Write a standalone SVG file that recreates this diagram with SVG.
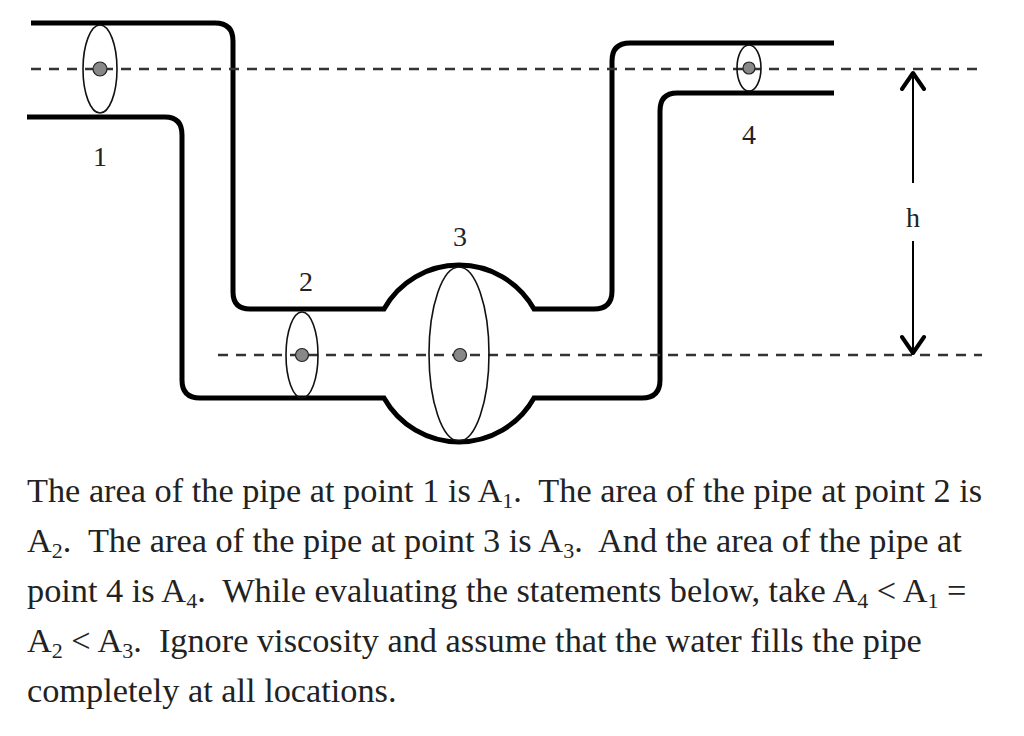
<svg xmlns="http://www.w3.org/2000/svg" width="1024" height="736" viewBox="0 0 1024 736">
<style>
.pipe{fill:none;stroke:#000;stroke-width:5}
.dash{fill:none;stroke:#333;stroke-width:2.5;stroke-dasharray:10,8}
.sec{fill:none;stroke:#111;stroke-width:1.6}
.dot{fill:#888;stroke:#222;stroke-width:1.2}
.lbl{font-family:"Liberation Serif",serif;font-size:28px;fill:#222;text-anchor:middle}
.txt{font-family:"Liberation Serif",serif;font-size:34.3px;fill:#222}
.sub{font-size:22px}
</style>
<rect width="1024" height="736" fill="#fff"/>
<g id="pipe">
<path class="pipe" d="M31,23 H215 Q233,23 233,41 V292 Q233,309 250,309 H384 A86,86 0 0 1 534,309 H594 Q612,309 612,291 V61 Q612,43 630,43 H834"/>
<path class="pipe" d="M27,117 H165 Q182,117 182,135 V380 Q182,398 200,398 H384 A86,86 0 0 0 534,398 H642 Q660,398 660,380 V111 Q660,93 677,93 H834"/>
</g>
<g id="levels">
<line class="dash" x1="31" y1="69" x2="985" y2="69"/>
<line class="dash" x1="218" y1="355" x2="982" y2="355"/>
</g>
<g id="p1"><ellipse class="sec" cx="100" cy="69" rx="17" ry="44"/><circle class="dot" cx="100" cy="69" r="7"/><text class="lbl" x="100" y="166">1</text></g>
<g id="p2"><ellipse class="sec" cx="302" cy="355" rx="16" ry="43"/><circle class="dot" cx="302" cy="355" r="6.5"/><text class="lbl" x="306" y="291">2</text></g>
<g id="p3"><ellipse class="sec" cx="459" cy="354" rx="30" ry="87"/><circle class="dot" cx="460" cy="355" r="6.5"/><text class="lbl" x="460" y="246">3</text></g>
<g id="p4"><ellipse class="sec" cx="749" cy="68" rx="12" ry="23"/><circle class="dot" cx="749" cy="68" r="6"/><text class="lbl" x="749" y="144">4</text></g>
<g id="h">
<line stroke="#000" stroke-width="2" x1="913" y1="72" x2="913" y2="183"/>
<line stroke="#000" stroke-width="2" x1="913" y1="241" x2="913" y2="353"/>
<path fill="none" stroke="#000" stroke-width="4" stroke-linecap="round" stroke-linejoin="round" d="M902,89 L913,73 L924,89 M902,337 L913,353 L924,337"/>
<text class="lbl" x="913" y="227">h</text>
</g>
<g id="caption" class="txt">
<text x="27" y="502">The area of the pipe at point 1 is A<tspan class="sub" dy="6">1</tspan><tspan dy="-6">.&#160; The area of the pipe at point 2 is</tspan></text>
<text x="27" y="552">A<tspan class="sub" dy="6">2</tspan><tspan dy="-6">.&#160; The area of the pipe at point 3 is A</tspan><tspan class="sub" dy="6">3</tspan><tspan dy="-6">.&#160; And the area of the pipe at</tspan></text>
<text x="27" y="602">point 4 is A<tspan class="sub" dy="6">4</tspan><tspan dy="-6">.&#160; While evaluating the statements below, take A</tspan><tspan class="sub" dy="6">4</tspan><tspan dy="-6"> &lt; A</tspan><tspan class="sub" dy="6">1</tspan><tspan dy="-6"> =</tspan></text>
<text x="27" y="652">A<tspan class="sub" dy="6">2</tspan><tspan dy="-6"> &lt; A</tspan><tspan class="sub" dy="6">3</tspan><tspan dy="-6">.&#160; Ignore viscosity and assume that the water fills the pipe</tspan></text>
<text x="27" y="702">completely at all locations.</text>
</g>
</svg>
